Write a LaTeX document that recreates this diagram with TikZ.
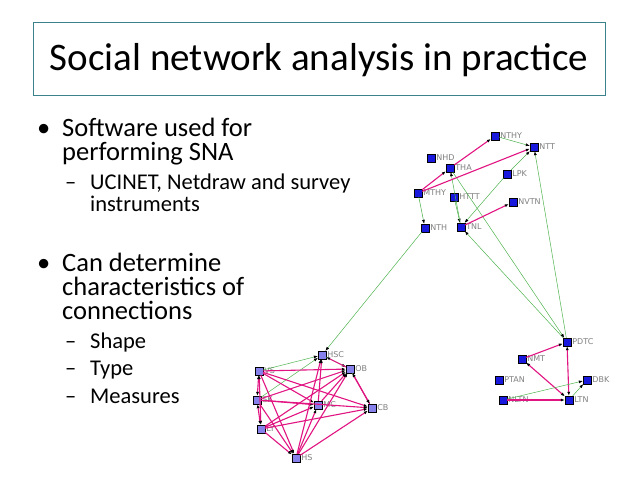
\documentclass[tikz,border=0pt]{standalone}
\usepackage{fontspec}
\setmainfont{Carlito}
\newfontfamily\lab{DejaVu Sans}
\usetikzlibrary{arrows.meta}
\begin{document}
\begin{tikzpicture}[x=1pt,y=-1pt,
  nd/.style={draw=black,fill=blue!85!black!90,minimum size=8pt,inner sep=0pt,line width=0.3pt},
  nl/.style={nd,fill={rgb,255:red,135;green,130;blue,235}},
  lb/.style={font=\lab\fontsize{8}{9}\selectfont,text=gray,anchor=west,inner sep=1pt},
  g/.style={draw={rgb,255:red,80;green,180;blue,80},line width=0.5pt,-{Latex[length=4pt,width=3pt,black]}},
  m/.style={draw={rgb,255:red,225;green,20;blue,130},line width=1.1pt,-{Latex[length=4pt,width=3pt,black]}},
  mm/.style={m,{Latex[length=4pt,width=3pt,black]}-{Latex[length=4pt,width=3pt,black]}},
  bt/.style={anchor=base west,inner sep=0pt,font=\fontsize{26.5}{28}\selectfont},
  st/.style={anchor=base west,inner sep=0pt,font=\fontsize{22.5}{24}\selectfont}]
\useasboundingbox (0,0) rectangle (638,478);
\fill[white] (0,0) rectangle (638,478);
\draw[line width=0.8pt,draw={rgb,255:red,60;green,130;blue,140}] (33,22) rectangle (605,95);
\node[font=\fontsize{39}{42}\selectfont] (title) at (319,60) {Social network analysis in practice};
\node[bt] (b1) at (37,137) {•}; \node[bt] (t1) at (62,137) {Software used for};
\node[bt] (t2) at (62,161) {performing SNA};
\node[st] (d1) at (65,190) {–}; \node[st] (s1) at (90,190) {UCINET, Netdraw and survey};
\node[st] (s2) at (90,212) {instruments};
\node[bt] (b2) at (37,272) {•}; \node[bt] (t3) at (62,272) {Can determine};
\node[bt] (t4) at (62,296) {characteristics of};
\node[bt] (t5) at (62,320) {connections};
\node[st] (d2) at (65,349) {–}; \node[st] (s3) at (90,349) {Shape};
\node[st] (d3) at (65,376) {–}; \node[st] (s4) at (90,376) {Type};
\node[st] (d4) at (65,404) {–}; \node[st] (s5) at (90,404) {Measures};
\foreach \n/\x/\y in {NTHY/495/136,NTT/534/147,NHD/431/158,THA/450/168,LPK/507/174,MTHY/418/193,HTTT/454/197,NVTN/513/202,NTH/425/228,TNL/461/227,PDTC/567/342,NMT/522/359,PTAN/499/380,DBK/587/380,NLTN/503/400,LTN/569/400}
  {\node[nd] (\n) at (\x,\y) {}; \node[lb] (l\n) at (\n.east) {\n};}
\foreach \n/\x/\y in {HSC/322/355,OB/350/369,VS/259/371,SK/257/400,MC/318/405,CB/372/408,LY/261/429,HS/296/458}
  {\node[nl] (\n) at (\x,\y) {}; \node[lb] (l\n) at (\n.east) {\n};}
\draw[g] (NTHY) -- (NTT);
\draw[g] (LPK) -- (NTT);
\draw[g] (PDTC) -- (NTT);
\draw[g] (PDTC) -- (TNL);
\draw[g] (LPK) -- (TNL);
\draw[g] (HTTT) -- (TNL);
\draw[g] (THA) -- (PDTC);
\draw[g] (TNL) -- (THA);
\draw[g] (MTHY) -- (NTH);
\draw[g] (NTH) -- (HSC);
\draw[m] (THA) -- (NTHY);
\draw[m] (MTHY) -- (THA);
\draw[m] (MTHY) -- (NTT);
\draw[m] (TNL) -- (NVTN);
\draw[m] (NMT) -- (PDTC);
\draw[mm] (NMT) -- (LTN);
\draw[mm] (PDTC) -- (LTN);
\draw[m] (NLTN) -- (LTN);
\draw[g] (NLTN) -- (DBK);
\draw[g] (LTN) -- (DBK);
\draw[g] (VS) -- (HSC);
\draw[g] (SK) -- (HSC);
\draw[g] (HSC) -- (OB);
\draw[g] (OB) -- (CB);
\foreach \a/\b in {VS/OB,VS/MC,VS/CB,SK/OB,SK/MC,SK/CB,LY/OB,LY/MC,LY/CB,HS/OB,HS/MC,HS/HSC,HS/CB,MC/OB,CB/OB,VS/HS,SK/HS,LY/HS,OB/HSC,MC/HSC}
  \draw[m] (\a) -- (\b);
\draw[mm] (VS) -- (SK);
\draw[mm] (SK) -- (LY);
\draw[mm] (VS) -- (LY);
\draw[mm] (OB) -- (CB);
\end{tikzpicture}
\end{document}
